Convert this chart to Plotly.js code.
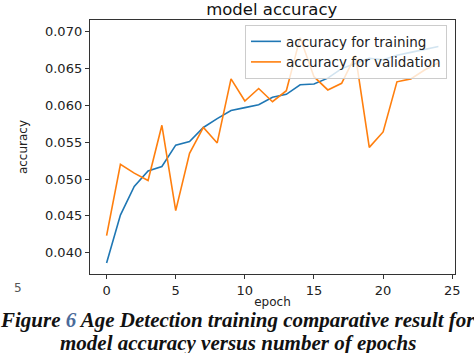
<!DOCTYPE html>
<html>
<head>
<meta charset="utf-8">
<script src="https://cdn.plot.ly/plotly-3.0.1.min.js"></script>
<style>html,body{margin:0;padding:0;background:#fff;}#chart{width:474px;height:353px;}</style>
</head>
<body>
<div id="chart"></div>
<script>
const epochs = [0,1,2,3,4,5,6,7,8,9,10,11,12,13,14,15,16,17,18,19,20,21,22,23,24];
const trainAcc = [0.0386,0.0451,0.0490,0.0511,0.0517,0.0546,0.0551,0.0570,0.0582,0.0593,0.0597,0.0601,0.0611,0.0615,0.0628,0.0629,0.0637,0.0650,0.0657,0.0664,0.0662,0.0668,0.0672,0.0676,0.0680];
const valAcc = [0.0423,0.0520,0.0508,0.0498,0.0573,0.0457,0.0535,0.0570,0.0549,0.0636,0.0606,0.0623,0.0605,0.0620,0.0692,0.0639,0.0621,0.0630,0.0668,0.0543,0.0564,0.0632,0.0636,0.0648,0.0658];
const seriesNames = ["accuracy for training", "accuracy for validation"];
const yTicks = [0.040,0.045,0.050,0.055,0.060,0.065,0.070];
const xTicks = [0,5,10,15,20,25];
const chartTitle = "model accuracy";
const xLabel = "epoch";
const yLabel = "accuracy";
const captionLine1 = '<b><i>Figure <span style="color:#4a6a9a">6</span> Age Detection training comparative result for</i></b>';
const captionLine2 = '<b><i>model accuracy versus number of epochs</i></b>';

const font = "DejaVu Sans";
const traces = [
  {x: epochs, y: trainAcc, name: seriesNames[0], type: 'scatter', mode: 'lines', line: {color: '#1f77b4', width: 1.6}},
  {x: epochs, y: valAcc, name: seriesNames[1], type: 'scatter', mode: 'lines', line: {color: '#ff7f0e', width: 1.6}}
];
const axisCommon = {
  showgrid: false, zeroline: false, showline: true, mirror: true,
  linecolor: '#333', linewidth: 1.2, ticks: 'outside', ticklen: 4, tickwidth: 1, tickcolor: '#333',
  tickfont: {family: font, size: 13, color: '#222'}
};
const layout = {
  width: 474, height: 353,
  margin: {l: 90, r: 19, t: 20, b: 79},
  paper_bgcolor: '#fff', plot_bgcolor: '#fff',
  showlegend: true,
  title: {text: chartTitle, font: {family: font, size: 16.5, color: '#111'}, x: (271.7)/474, xanchor: 'center', y: 1 - 9/353, yanchor: 'middle', yref: 'container'},
  xaxis: Object.assign({}, axisCommon, {range: [-1.2, 25.2], tickvals: xTicks, ticktext: xTicks.map(String),
    title: {text: xLabel, font: {family: font, size: 12, color: '#222'}, standoff: 0}}),
  yaxis: Object.assign({}, axisCommon, {range: [0.0371, 0.0716], tickvals: yTicks, ticktext: yTicks.map(v => v.toFixed(3)),
    title: {text: yLabel, font: {family: font, size: 12, color: '#222'}, standoff: 14}}),
  legend: {x: 0.978, xanchor: 'right', y: 0.98, yanchor: 'top', bgcolor: 'rgba(255,255,255,0.8)', bordercolor: '#ccc', borderwidth: 1,
    font: {family: font, size: 13.5, color: '#222'}, tracegroupgap: 0},
  annotations: [
    {xref: 'paper', yref: 'paper', x: (237-90)/365, y: (274-320)/254, xanchor: 'center', yanchor: 'middle', showarrow: false,
     text: captionLine1, font: {family: 'Liberation Serif', size: 21, color: '#111'}},
    {xref: 'paper', yref: 'paper', x: (238-90)/365, y: (274-343)/254, xanchor: 'center', yanchor: 'middle', showarrow: false,
     text: captionLine2, font: {family: 'Liberation Serif', size: 21, color: '#111'}},
    {xref: 'paper', yref: 'paper', x: (18-90)/365, y: (274-288)/254, xanchor: 'center', yanchor: 'middle', showarrow: false,
     text: '5', font: {family: font, size: 12, color: '#555'}}
  ]
};
Plotly.newPlot('chart', traces, layout, {displayModeBar: false, staticPlot: true});
</script>
</body>
</html>
